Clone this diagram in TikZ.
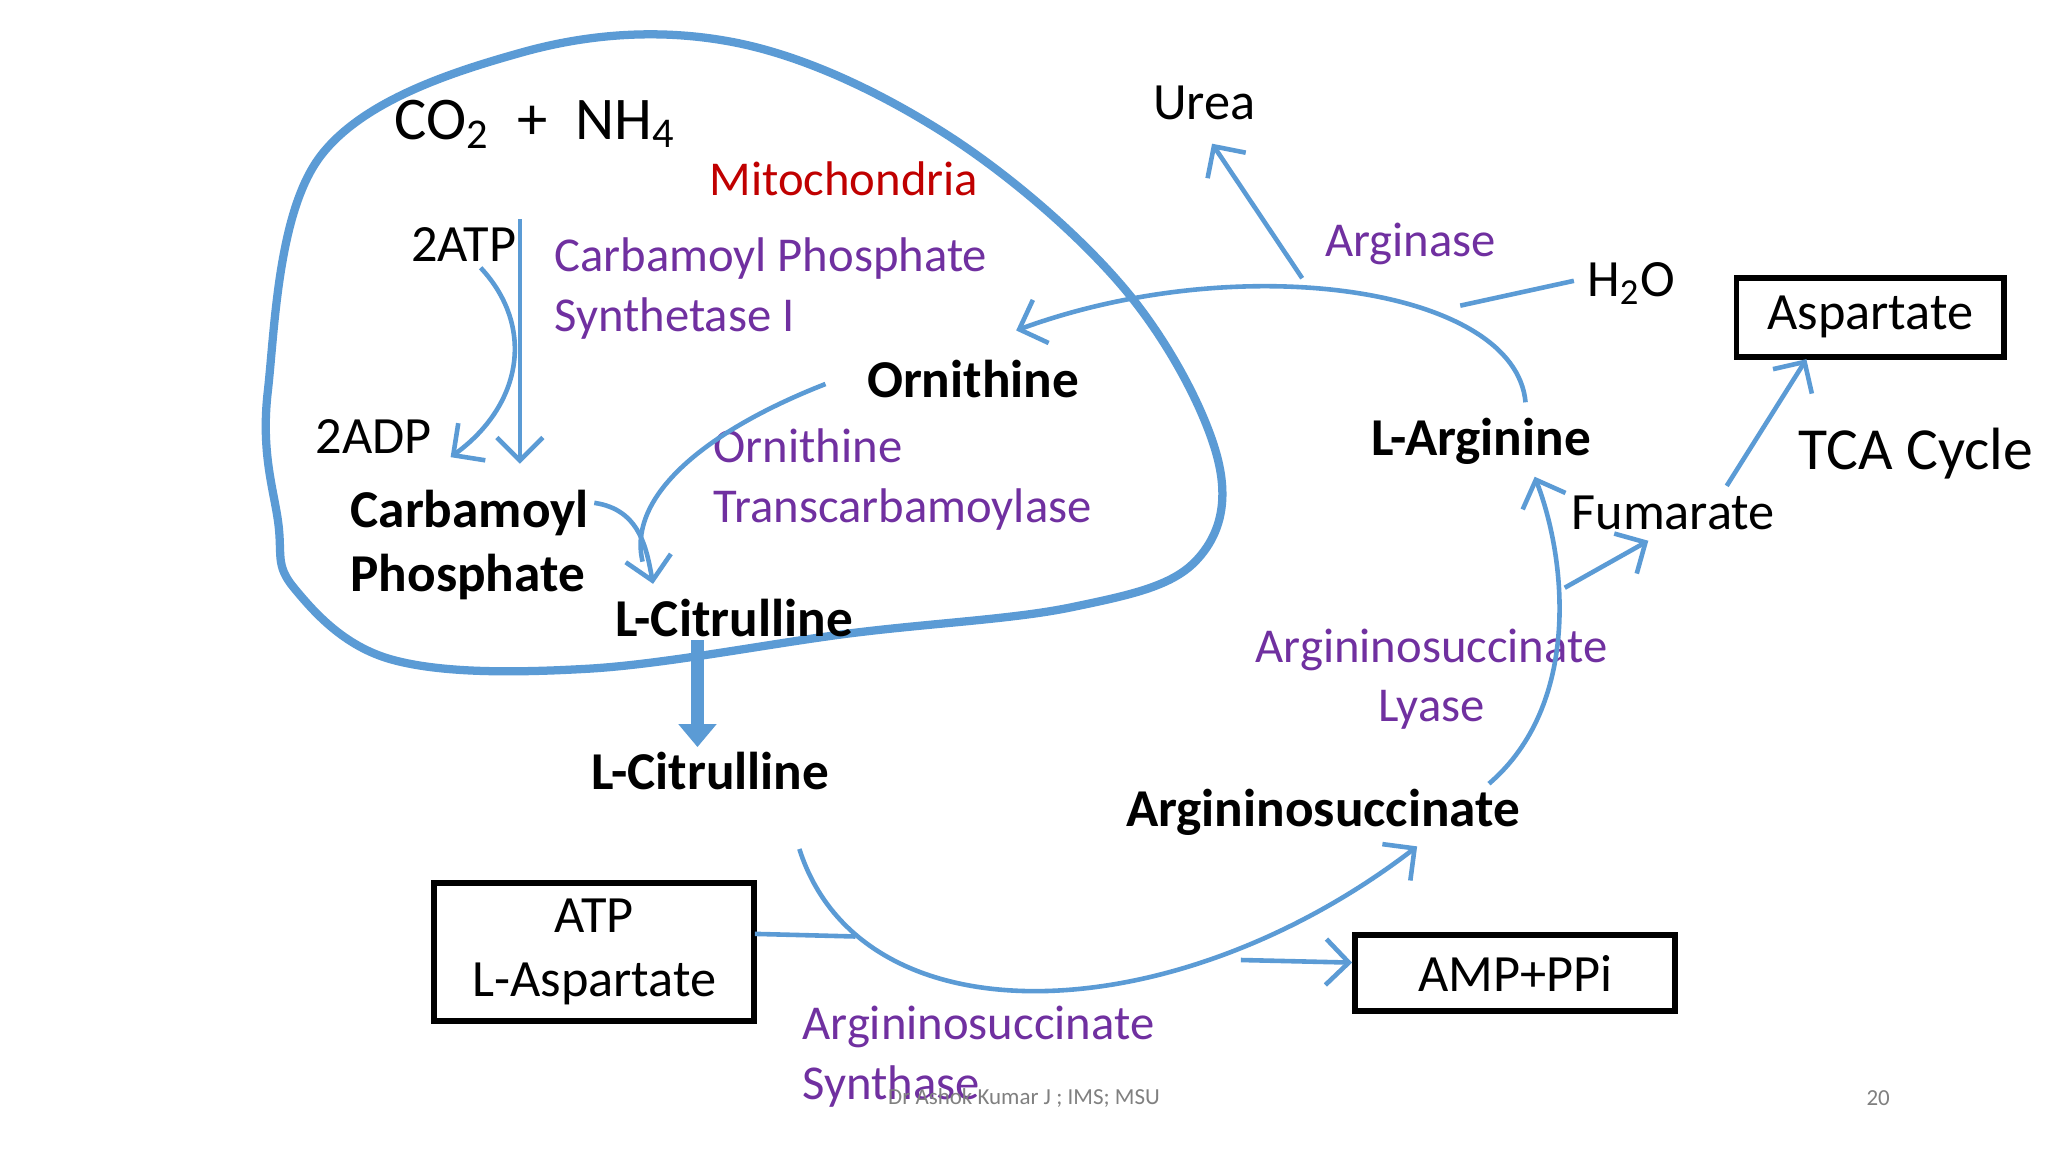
\documentclass[tikz,border=0pt]{standalone}
\usepackage{fontspec}
\setmainfont{Carlito}
\usetikzlibrary{arrows.meta}
\definecolor{bl}{RGB}{91,155,213}
\definecolor{pu}{RGB}{112,48,160}
\definecolor{rd}{RGB}{192,0,0}
\begin{document}
\begin{tikzpicture}[x=0.1mm,y=-0.1mm,
 ar/.style={bl,line width=1pt,-{Straight Barb[length=5pt,width=10pt]}},
 ln/.style={bl,line width=1pt},
 en/.style={pu,font=\fontsize{10.6}{13}\selectfont,align=left},
 bd/.style={font=\fontsize{11.6}{14}\selectfont\bfseries},
 tx/.style={font=\fontsize{11.4}{14}\selectfont},
 bx/.style={draw=black,line width=1.3pt,font=\fontsize{11.4}{14}\selectfont,align=center}]
\useasboundingbox (0,0) rectangle (1568,882);
\fill[white] (0,0) rectangle (1568,882);
% mitochondrion
\draw[bl,line width=1.8pt] plot[smooth cycle,tension=0.6] coordinates{(205,300) (245,120) (400,40) (560,32) (720,100) (860,220) (932,350) (915,430) (820,465) (650,485) (450,512) (300,505) (225,450) (213,400)};
\node[font=\fontsize{13.2}{16}\selectfont] (co) at (410,95) {CO\textsubscript{2} \ + \ NH\textsubscript{4}};
\node[rd,font=\fontsize{10.6}{13}\selectfont] (mi) at (646,137) {Mitochondria};
\node[tx] (atp) at (355,187) {2ATP};
\node[tx] (adp) at (286,334) {2ADP};
\node[en,anchor=west] (cps) at (412,221) {Carbamoyl Phosphate\\Synthetase I};
\node[bd,align=left,anchor=west] (cp) at (256,417) {Carbamoyl\\Phosphate};
\node[bd] (orn) at (745,290) {Ornithine};
\node[en,anchor=west] (otc) at (534,367) {Ornithine\\Transcarbamoylase};
\node[bd] (cit1) at (562,473) {L-Citrulline};
\node[bd] (cit2) at (544,590) {L-Citrulline};
\coordinate (v1) at (398,168);
\coordinate (v2) at (398,355);
\draw[ar] (v1) -- (v2);
\coordinate (c1) at (368,205); \coordinate (c2) at (345,350);
\draw[ar] (c1) .. controls (410,250) and (400,310) .. (c2);
\coordinate (c3) at (455,385); \coordinate (c4) at (500,447);
\draw[ar] (c3) .. controls (490,390) and (495,420) .. (c4);
\coordinate (o1) at (632,294);
\draw[ln] (o1) .. controls (540,330) and (480,380) .. (492,430);
\draw[bl,line width=3pt,-{Triangle[length=5pt,width=8pt]}] (534,490) -- (534,572);
% lower
\node[bx,minimum width=2.45cm,minimum height=1.06cm] (atpb) at (455,729) {ATP\\L-Aspartate};
\node[bx,minimum width=2.45cm,minimum height=0.58cm] (amp) at (1160,745) {AMP+PPi};
\coordinate (s1) at (612,650); \coordinate (s2) at (1085,648);
\draw[ar] (s1) .. controls (660,800) and (900,790) .. (s2);
\draw[ln] (578,715) -- (655,717);
\draw[ar] (950,735) -- (amp.west|-0,737);
\node[en,anchor=west] (ass) at (602,809) {Argininosuccinate\\Synthase};
\node[bd] (as) at (1013,622) {Argininosuccinate};
\node[en,align=center] (asl) at (1096,520) {Argininosuccinate\\Lyase};
\coordinate (l1) at (1140,600); \coordinate (l2) at (1175,365);
\draw[ar] (l1) .. controls (1210,540) and (1200,430) .. (l2);
\node[tx] (fum) at (1281,393) {Fumarate};
\draw[ar] (1198,450) -- (1262,414);
\node[bx,minimum width=2.05cm,minimum height=0.6cm] (asp) at (1432,243) {Aspartate};
\draw[ar] (1322,372) -- (1383,275);
\node[font=\fontsize{13}{16}\selectfont] (tca) at (1467,347) {TCA Cycle};
\node[bd] (arg) at (1134,338) {L-Arginine};
\coordinate (g1) at (1168,308); \coordinate (g2) at (778,253);
\draw[ar] (g1) .. controls (1160,220) and (950,190) .. (g2);
\draw[ar] (997,213) -- (928,110);
\node[tx] (urea) at (922,79) {Urea};
\node[en] (argz) at (1080,187) {Arginase};
\node[tx] (h2o) at (1249,217) {H\textsubscript{2}O};
\draw[ln] (1118,234) -- (1205,215);
\node[gray,font=\fontsize{5}{6}\selectfont] (ft) at (784,841) {Dr Ashok Kumar J ; IMS; MSU};
\node[gray,font=\fontsize{5}{6}\selectfont] (pg) at (1438,841) {20};
\end{tikzpicture}
\end{document}
